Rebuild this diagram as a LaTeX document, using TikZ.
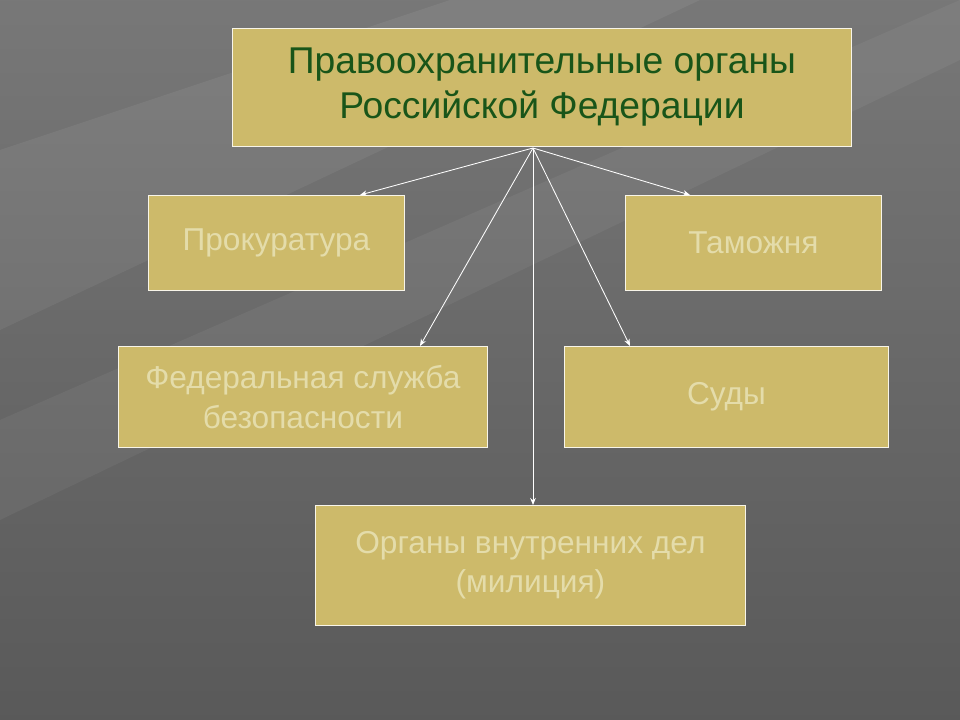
\documentclass[tikz,border=0pt]{standalone}
\usepackage{fontspec}
\setmainfont{Liberation Sans}
\usetikzlibrary{arrows.meta}
\definecolor{boxfill}{RGB}{205,186,106}
\definecolor{toptext}{RGB}{25,85,25}
\definecolor{lowtext}{RGB}{228,220,170}
\begin{document}
\begin{tikzpicture}[x=0.025cm,y=-0.025cm,
  box/.style={draw=white!85!boxfill,line width=0.6pt,fill=boxfill,align=center,anchor=north west,inner sep=0pt,text=lowtext,font=\fontsize{22.5}{28}\selectfont},
  arr/.style={draw=white,line width=0.6pt,-{Stealth[length=5pt,width=4pt]}}]
\shade[left color=gray!75!black!85,right color=black!65,shading angle=0] (0,0) rectangle (960,720);
\fill[white,opacity=0.06] (0,150) -- (0,330) -- (700,0) -- (450,0) -- cycle;
\fill[white,opacity=0.05] (0,420) -- (0,520) -- (960,60) -- (960,0) -- cycle;
\useasboundingbox (0,0) rectangle (960,720);
\node[box,minimum width=619*0.025cm,minimum height=118*0.025cm,text=toptext,font=\fontsize{26.5}{32}\selectfont] (top) at (232,28) {Правоохранительные органы\\Российской Федерации};
\node[box,minimum width=256*0.025cm,minimum height=95*0.025cm] (pr) at (148,195) {Прокуратура};
\node[box,minimum width=256*0.025cm,minimum height=95*0.025cm] (tm) at (625,195) {Таможня};
\node[box,minimum width=369*0.025cm,minimum height=101*0.025cm] (fsb) at (118,346) {Федеральная служба\\безопасности};
\node[box,minimum width=324*0.025cm,minimum height=101*0.025cm] (sd) at (564,346) {Суды};
\node[box,minimum width=430*0.025cm,minimum height=120*0.025cm] (ovd) at (315,505) {Органы внутренних дел\\(милиция)};
\coordinate (o) at (533,148);
\draw[arr] (o) -- (pr.north -| 360,0);
\draw[arr] (o) -- (fsb.north -| 420,0);
\draw[arr] (o) -- (ovd.north -| 533,0);
\draw[arr] (o) -- (sd.north -| 630,0);
\draw[arr] (o) -- (tm.north -| 690,0);
\end{tikzpicture}
\end{document}
